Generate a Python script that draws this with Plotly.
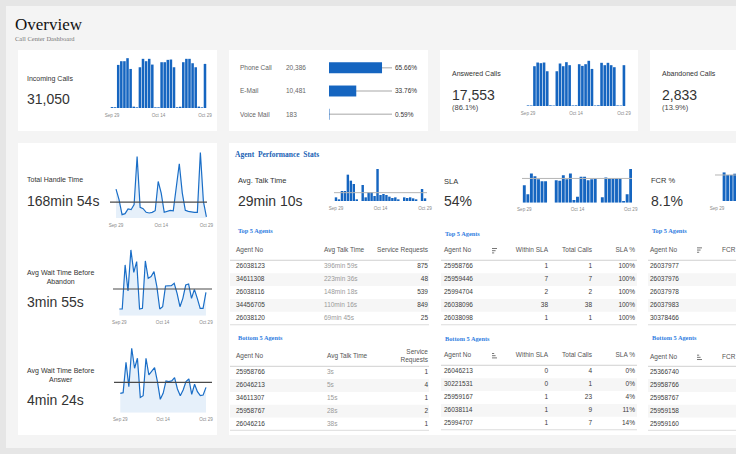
import plotly.graph_objects as go
import pandas as pd

W, H = 736, 454
FONT = "Liberation Sans, Arial, sans-serif"
SERIF = "Liberation Serif, Times New Roman, serif"
BLUE = "#1565c0"
LINE_BLUE = "#1a6ec7"
FILL_BLUE = "#e6f0fa"
DARK = "#333333"
MID = "#555555"

# ---------------- data ----------------
dates = pd.date_range("2018-09-29", "2018-10-29", freq="D")
TICK_VALS = ["2018-09-29", "2018-10-14", "2018-10-29"]
TICK_TEXT = ["Sep 29", "Oct 14", "Oct 29"]

incoming_calls = [30, 25, 1382, 1501, 1501, 1598, 1253, 43, 22, 1307, 1577, 1501, 1577, 1393,
                  22, 22, 1469, 1469, 1544, 1555, 1307, 25, 40, 1469, 1577, 1577, 1436, 1307,
                  45, 22, 1415]
answered_calls = [12, 10, 807, 882, 869, 882, 705, 14, 9, 705, 862, 807, 889, 828,
                  11, 13, 848, 814, 848, 917, 752, 10, 15, 876, 828, 876, 828, 787,
                  12, 9, 828]

channels = ["Phone Call", "E-Mail", "Voice Mail"]
channel_counts = [20386, 10481, 183]

handle_time_min = [306, 194, 35, 46, 95, 88, 141, 651, 113, 99, 60, 53, 60, 77, 387, 264,
                   60, 70, 81, 77, 299, 574, 264, 81, 70, 63, 60, 60, 693, 176, 11]
wait_abandon_s = [59, 59, 447, 218, 579, 382, 476, 59, 65, 482, 329, 344, 388, 256, 59, 79,
                  262, 262, 265, 285, 197, 79, 153, 270, 279, 153, 232, 153, 65, 65, 206]
wait_answer_s = [168, 174, 438, 226, 560, 386, 473, 133, 148, 473, 328, 363, 392, 270, 116, 168,
                 276, 270, 276, 305, 206, 148, 197, 270, 293, 160, 247, 183, 148, 154, 220]
talk_time_min = [12.8, 5.8, 35, 35, 92.2, 71.2, 59.5, 5.8, 0, 56, 12.8, 30.3, 30.3, 17.5, 112, 21,
                 24.5, 21, 15.2, 10.5, 12.8, 5.8, 0, 12.8, 10.5, 12.8, 9.3, 5.8, 0, 42, 9.3]
sla_pct = [39, 19, 65, 59, 52, 48, 48, 0, 0, 50, 49, 61, 52, 65, 6, 13,
           58, 58, 50, 52, 54, 0, 12, 56, 54, 54, 54, 54, 4, 19, 75]
fcr_pct_first_days = [0, 0, 8.9, 8.1, 8.1, 8.5]

# KPI headline values
kpi_incoming = "31,050"
kpi_answered, kpi_answered_share = "17,553", "(86.1%)"
kpi_abandoned, kpi_abandoned_share = "2,833", "(13.9%)"
kpi_handle_min = 168 + 54 / 60
kpi_wait_abandon_s = 3 * 60 + 55
kpi_wait_answer_s = 4 * 60 + 24
kpi_talk_min = 29 + 10 / 60
kpi_sla = 54
kpi_fcr = 8.1

top_talk_agents = ["26038123", "34611308", "26038116", "34456705", "26038120"]
top_talk_time = ["396min 59s", "223min 36s", "148min 18s", "110min 16s", "69min 45s"]
top_talk_requests = [875, 48, 539, 849, 25]
bottom_talk_agents = ["25958766", "26046213", "34611307", "25958767", "26046216"]
bottom_talk_time = ["3s", "5s", "15s", "28s", "38s"]
bottom_talk_requests = [1, 4, 1, 2, 1]

top_sla_agents = ["25958766", "25959446", "25994704", "26038096", "26038098"]
top_sla_within = [1, 7, 2, 38, 1]
top_sla_total = [1, 7, 2, 38, 1]
bottom_sla_agents = ["26046213", "30221531", "25959167", "26038114", "25994707"]
bottom_sla_within = [0, 0, 1, 1, 1]
bottom_sla_total = [4, 1, 23, 9, 7]

top_fcr_agents = ["26037977", "26037976", "26037978", "26037983", "30378466"]
bottom_fcr_agents = ["25366740", "25958766", "25958767", "25959158", "25959160"]

# ---------------- helpers ----------------
fig = go.Figure()
layout = {}
shapes = []
annotations = []
naxes = [0]


def dshift(d, days):
    return (pd.Timestamp(d) + pd.Timedelta(days=days)).isoformat()


def new_axes(xdom, ydom, xrange, yrange, xtype="date", ticks=True, ytype="linear"):
    naxes[0] += 1
    n = "" if naxes[0] == 1 else str(naxes[0])
    xa = dict(domain=[xdom[0] / W, min(1, xdom[1] / W)], range=xrange, anchor="y" + n,
              showgrid=False, zeroline=False, showline=False, fixedrange=True, type=xtype,
              automargin=False)
    if ticks:
        xa.update(tickmode="array", tickvals=TICK_VALS, ticktext=TICK_TEXT, ticks="",
                  tickfont=dict(size=4.6, color="#8a8a8a", family=FONT), ticklabelstandoff=3)
    else:
        xa.update(showticklabels=False)
    ya = dict(domain=[1 - ydom[1] / H, 1 - ydom[0] / H], range=yrange, anchor="x" + n,
              showgrid=False, zeroline=False, showline=False, showticklabels=False,
              fixedrange=True, type=ytype, automargin=False)
    layout["xaxis" + n] = xa
    layout["yaxis" + n] = ya
    return "x" + n, "y" + n


def text(x, y, s, size=7, color=DARK, family=FONT, xanchor="left"):
    annotations.append(dict(x=x / W, y=1 - y / H, xref="paper", yref="paper", text=s,
                            showarrow=False, xanchor=xanchor, yanchor="middle",
                            font=dict(size=size, color=color, family=family)))


def rect(x0, y0, x1, y1, color):
    shapes.append(dict(type="rect", xref="paper", yref="paper", x0=x0 / W, x1=x1 / W,
                       y0=1 - y1 / H, y1=1 - y0 / H, fillcolor=color, line=dict(width=0),
                       layer="below"))


def ref_line(xa, ya, value, color, width):
    shapes.append(dict(type="line", xref=xa + " domain", yref=ya, x0=0, x1=1, y0=value,
                       y1=value, line=dict(color=color, width=width)))


def date_range(left_pad, right_pad):
    return [dshift(dates[0], -left_pad), dshift(dates[-1], right_pad)]


def bars(xdom, ydom, ymax, values, pads):
    xa, ya = new_axes(xdom, ydom, date_range(*pads), [0, ymax])
    fig.add_trace(go.Bar(x=dates[:len(values)], y=values, marker=dict(color=BLUE, line=dict(width=0)),
                         xaxis=xa, yaxis=ya, hoverinfo="skip"))
    return xa, ya


def area(xdom, ydom, ymax, values, pads, kpi):
    xa, ya = new_axes(xdom, ydom, date_range(*pads), [0, ymax])
    fig.add_trace(go.Scatter(x=dates, y=values, mode="lines", fill="tozeroy", fillcolor=FILL_BLUE,
                             line=dict(color=LINE_BLUE, width=1.2), xaxis=xa, yaxis=ya,
                             hoverinfo="skip"))
    ref_line(xa, ya, kpi, "#4a4a4a", 1.2)


def table(xl, xr, row0, rh, hdr_off, columns, icon=None):
    top = row0 - 2.0 * rh
    bottom = row0 + 4.7 * rh
    xa, ya = new_axes((xl, xr), (top, bottom), [xl, xr], [4.7, -2.0], xtype="linear", ticks=False)
    nrows = 5
    for r in range(nrows):
        if r % 2 == 1:
            shapes.append(dict(type="rect", xref=xa + " domain", yref=ya, x0=0, x1=1,
                               y0=r - 0.5, y1=r + 0.5, fillcolor="#f6f6f6",
                               line=dict(width=0), layer="below"))
    shapes.append(dict(type="line", xref=xa + " domain", yref=ya, x0=0, x1=1, y0=-0.5, y1=-0.5,
                       line=dict(color="#d0d0d0", width=1)))
    shapes.append(dict(type="line", xref=xa + " domain", yref=ya, x0=0, x1=1, y0=4.5, y1=4.5,
                       line=dict(color="#dcdcdc", width=1)))
    for col in columns:
        pos = "middle right" if col["align"] == "left" else "middle left"
        fig.add_trace(go.Scatter(x=[col["x"]], y=[hdr_off], mode="text", text=[col["header"]],
                                 textposition=pos, cliponaxis=False, hoverinfo="skip",
                                 textfont=dict(size=6.5, color=MID, family=FONT),
                                 xaxis=xa, yaxis=ya))
        vals = [str(v) for v in col["values"]]
        if vals:
            fig.add_trace(go.Scatter(x=[col["x"]] * len(vals), y=list(range(len(vals))),
                                     mode="text", text=vals, textposition=pos, cliponaxis=False,
                                     hoverinfo="skip",
                                     textfont=dict(size=6.5, color=col.get("color", "#3c3c3c"),
                                                   family=FONT),
                                     xaxis=xa, yaxis=ya))
    if icon is not None:
        x0, descending = icon
        lens = [5.0, 3.6, 2.2] if descending else [2.2, 3.6, 5.0]
        for i, L in enumerate(lens):
            y = hdr_off + (i - 1) * 0.17
            shapes.append(dict(type="line", xref=xa, yref=ya, x0=x0, x1=x0 + L, y0=y, y1=y,
                               line=dict(color="#666", width=0.9)))


# ---------------- background & cards ----------------
rect(6, 6, 736, 448, "#f4f4f4")
for (x0, y0, x1, y1) in [(18, 50, 217, 131), (229, 50, 428, 131), (440, 50, 638, 131),
                         (650, 50, 736, 131), (18, 143, 217, 435), (229, 143, 736, 435)]:
    rect(x0, y0, x1, y1, "#ffffff")

text(13, 25, "Overview", size=17, color="#111", family=SERIF)
text(13, 38.5, "Call Center Dashboard", size=6.5, color="#777", family=SERIF)

# ---------------- top row ----------------
text(25, 79, "Incoming Calls", size=7)
text(25, 99, kpi_incoming, size=14)
bars((108, 207), (55, 108), 1700, incoming_calls, (1.3, 0.65))

# channels card
ch_max = 78
xa, ya = new_axes((329, 392), (56, 126), [0, ch_max], [2.5, -0.5], xtype="linear", ticks=False,
                  ytype="category")
total_ch = sum(channel_counts)
ch_pct = [c / total_ch * 100 for c in channel_counts]
fig.add_trace(go.Bar(x=[ch_max] * len(channels), y=channels, orientation="h", width=0.065,
                     marker=dict(color="#c4c4c4", line=dict(width=0)), xaxis=xa, yaxis=ya,
                     hoverinfo="skip"))
fig.add_trace(go.Bar(x=ch_pct, y=channels, orientation="h", width=0.47,
                     marker=dict(color=BLUE, line=dict(width=0)), xaxis=xa, yaxis=ya,
                     hoverinfo="skip"))
for name, cnt, p in zip(channels, channel_counts, ch_pct):
    annotations.append(dict(x=238 / W, y=name, xref="paper", yref=ya, text=name, showarrow=False,
                            xanchor="left", font=dict(size=6.5, color="#666", family=FONT)))
    annotations.append(dict(x=284 / W, y=name, xref="paper", yref=ya, text=f"{cnt:,}",
                            showarrow=False, xanchor="left",
                            font=dict(size=6.5, color="#666", family=FONT)))
    annotations.append(dict(x=392.5 / W, y=name, xref="paper", yref=ya, text=f"{p:.2f}%",
                            showarrow=False, xanchor="left",
                            font=dict(size=6.5, color=DARK, family=FONT)))

text(450, 74, "Answered Calls", size=7)
text(450, 95, kpi_answered, size=14)
text(450, 107.5, kpi_answered_share, size=7.5, color="#444")
bars((522, 630), (53, 106), 1075, answered_calls, (1.9, 1.9))

text(660, 74, "Abandoned Calls", size=7)
text(660, 95, kpi_abandoned, size=14)
text(660, 107.5, kpi_abandoned_share, size=7.5, color="#444")

# ---------------- left column ----------------
text(25, 179.5, "Total Handle Time", size=7)
text(25, 200.5, "168min 54s", size=14)
area((110, 207), (150, 218), 720, handle_time_min, (2.0, 0.2), kpi_handle_min)

text(25, 277, "Avg Wait Time Before<br>Abandon", size=7)
text(25, 301.5, "3min 55s", size=14)
area((113, 212), (247, 315.7), 605, wait_abandon_s, (2.2, 2.1), kpi_wait_abandon_s)

text(25, 375, "Avg Wait Time Before<br>Answer", size=7)
text(25, 399.5, "4min 24s", size=14)
area((114, 212), (344, 412.7), 597, wait_answer_s, (2.2, 2.1), kpi_wait_answer_s)

# ---------------- agent performance ----------------
text(233, 154, "<b>Agent  Performance  Stats</b>", size=7.5, color="#1a5fb4", family=SERIF)

text(236, 180, "Avg. Talk Time", size=7.5)
text(236, 201, "29min 10s", size=14)
xa, ya = bars((334, 427), (166, 201), 122.5, talk_time_min, (0.67, 0.67))
ref_line(xa, ya, kpi_talk_min, "#b5b5b5", 1)

text(442, 181.5, "SLA", size=7.5)
text(442, 201.5, f"{kpi_sla}%", size=14)
xa, ya = bars((522, 632), (166, 202.7), 81.7, sla_pct, (0.65, 0.37))
ref_line(xa, ya, kpi_sla, "#b5b5b5", 1)

text(649, 180, "FCR %", size=7.5)
text(649, 201, f"{kpi_fcr}%", size=14)
xa, ya = new_axes((715, 736), (166, 201), [dshift(dates[0], -0.56), dshift(dates[0], 5.35)],
                  [0, 10.9])
fig.add_trace(go.Bar(x=dates[:len(fcr_pct_first_days)], y=fcr_pct_first_days,
                     marker=dict(color=BLUE, line=dict(width=0)), xaxis=xa, yaxis=ya,
                     hoverinfo="skip"))
ref_line(xa, ya, kpi_fcr, "#b5b5b5", 1)

TITLE_BLUE = "#2f7de1"
for x, y, s in [(236, 231, "Top 5 Agents"), (443, 233, "Top 5 Agents"), (650, 231, "Top 5 Agents"),
                (236, 337.3, "Bottom 5 Agents"), (443, 338.3, "Bottom 5 Agents"),
                (650, 337.3, "Bottom 5 Agents")]:
    text(x, y, f"<b>{s}</b>", size=6.3, color=TITLE_BLUE, family=SERIF)


def pct(w, t):
    return f"{round(w / t * 100)}%"


table(230, 429, 266.7, 12.9, -1.26, [
    dict(x=236, align="left", header="Agent No", values=top_talk_agents),
    dict(x=324, align="left", header="Avg Talk Time", values=top_talk_time, color="#9a9a9a"),
    dict(x=428, align="right", header="Service Requests", values=top_talk_requests),
])
table(230, 429, 372.7, 12.8, -1.27, [
    dict(x=236, align="left", header="Agent No", values=bottom_talk_agents),
    dict(x=327, align="left", header="Avg Talk Time", values=bottom_talk_time, color="#9a9a9a"),
    dict(x=428, align="right", header="Service<br>Requests", values=bottom_talk_requests),
])
table(441, 637, 266.7, 12.9, -1.24, [
    dict(x=444, align="left", header="Agent No", values=top_sla_agents),
    dict(x=548, align="right", header="Within SLA", values=top_sla_within),
    dict(x=592, align="right", header="Total Calls", values=top_sla_total),
    dict(x=635, align="right", header="SLA %",
         values=[pct(w, t) for w, t in zip(top_sla_within, top_sla_total)]),
], icon=(492, True))
table(441, 637, 371.7, 12.9, -1.24, [
    dict(x=444, align="left", header="Agent No", values=bottom_sla_agents),
    dict(x=548, align="right", header="Within SLA", values=bottom_sla_within),
    dict(x=592, align="right", header="Total Calls", values=bottom_sla_total),
    dict(x=635, align="right", header="SLA %",
         values=[pct(w, t) for w, t in zip(bottom_sla_within, bottom_sla_total)]),
], icon=(492, False))
table(648, 736, 266.7, 12.9, -1.29, [
    dict(x=650, align="left", header="Agent No", values=top_fcr_agents),
    dict(x=722, align="left", header="FCR", values=[]),
], icon=(697, True))
table(648, 736, 372.7, 12.8, -1.2, [
    dict(x=650, align="left", header="Agent No", values=bottom_fcr_agents),
    dict(x=722, align="left", header="FCR", values=[]),
], icon=(697, False))

fig.update_layout(
    width=W, height=H, margin=dict(l=0, r=0, t=0, b=0, pad=0), autosize=False,
    paper_bgcolor="#e6e6e6", plot_bgcolor="rgba(0,0,0,0)",
    showlegend=False, barmode="overlay", bargap=0.18,
    shapes=shapes, annotations=annotations,
    font=dict(family=FONT),
    **layout,
)
fig.write_html("out.html", config=dict(displayModeBar=False, staticPlot=True))
